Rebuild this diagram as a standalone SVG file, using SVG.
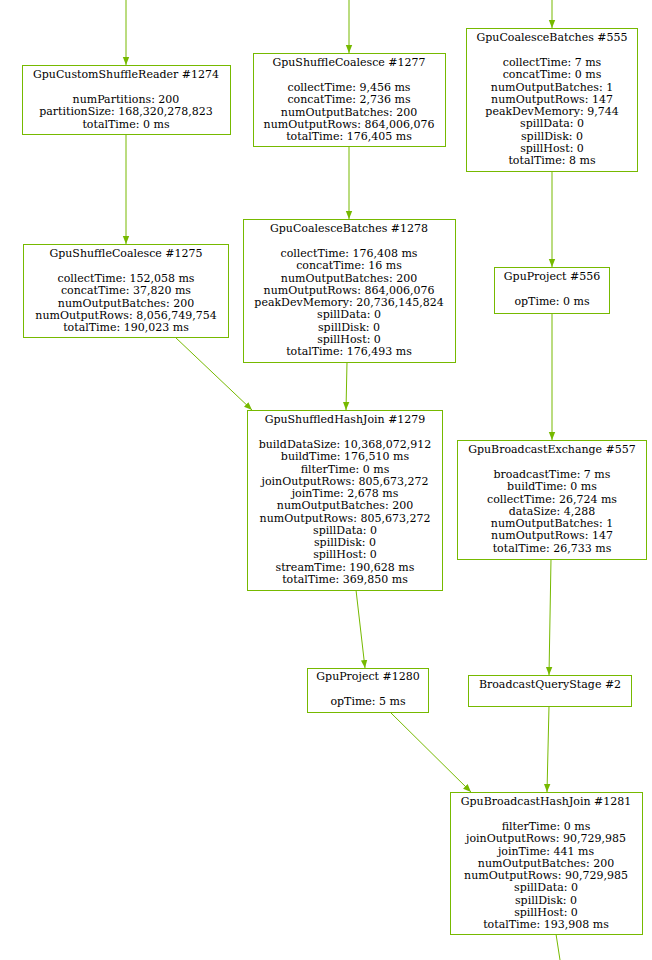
<svg xmlns="http://www.w3.org/2000/svg" width="652" height="960" viewBox="0 0 652 960">
<defs>
<style>
rect{fill:#fff;stroke:#76b900;stroke-width:1}
text{font-family:"DejaVu Serif",serif;font-size:11px;text-anchor:middle;fill:#000}
.e{stroke:#76b900;stroke-width:1;fill:none;marker-end:url(#a)}
</style>
<marker id="a" viewBox="0 0 10 10" refX="10" refY="5" markerWidth="8" markerHeight="8" markerUnits="userSpaceOnUse" orient="auto"><path d="M0,1 L10,5 L0,9 z" fill="#76b900"/></marker>
</defs>
<rect x="0" y="0" width="652" height="960" style="stroke:none"/>
<g id="connectors">
<path class="e" d="M126,0 L126,65"/>
<path class="e" d="M349,0 L349,53"/>
<path class="e" d="M552,0 L552,28"/>
<path class="e" d="M126,134 L126,244"/>
<path class="e" d="M349,146 L349,219"/>
<path class="e" d="M552,171 L552,267"/>
<path class="e" d="M175,337 L252,410"/>
<path class="e" d="M347,362 L346,410"/>
<path class="e" d="M552,313 L552,440"/>
<path class="e" d="M356,590 L365,668"/>
<path class="e" d="M551,559 L549,675"/>
<path class="e" d="M390,712 L471,792"/>
<path class="e" d="M549,706 L547,792"/>
<path style="stroke:#76b900;fill:none" d="M556,934 L560,960"/>
</g>
<g id="n1274"><rect x="22.5" y="65.5" width="208" height="69"/>
<text x="126" y="78">GpuCustomShuffleReader #1274</text>
<text x="126" y="103">numPartitions: 200</text><text x="126" y="115.25">partitionSize: 168,320,278,823</text><text x="126" y="127.5">totalTime: 0 ms</text></g>
<g id="n1277"><rect x="253.5" y="53.5" width="192" height="93"/>
<text x="349" y="66">GpuShuffleCoalesce #1277</text>
<text x="349" y="91">collectTime: 9,456 ms</text><text x="349" y="103.25">concatTime: 2,736 ms</text><text x="349" y="115.5">numOutputBatches: 200</text><text x="349" y="127.75">numOutputRows: 864,006,076</text><text x="349" y="140">totalTime: 176,405 ms</text></g>
<g id="n555"><rect x="466.5" y="28.5" width="171" height="143"/>
<text x="552" y="41">GpuCoalesceBatches #555</text>
<text x="552" y="66">collectTime: 7 ms</text><text x="552" y="78.25">concatTime: 0 ms</text><text x="552" y="90.5">numOutputBatches: 1</text><text x="552" y="102.75">numOutputRows: 147</text><text x="552" y="115">peakDevMemory: 9,744</text><text x="552" y="127.25">spillData: 0</text><text x="552" y="139.5">spillDisk: 0</text><text x="552" y="151.75">spillHost: 0</text><text x="552" y="164">totalTime: 8 ms</text></g>
<g id="n1275"><rect x="23.5" y="244.5" width="205" height="93"/>
<text x="126" y="257">GpuShuffleCoalesce #1275</text>
<text x="126" y="282">collectTime: 152,058 ms</text><text x="126" y="294.25">concatTime: 37,820 ms</text><text x="126" y="306.5">numOutputBatches: 200</text><text x="126" y="318.75">numOutputRows: 8,056,749,754</text><text x="126" y="331">totalTime: 190,023 ms</text></g>
<g id="n1278"><rect x="243.5" y="219.5" width="212" height="143"/>
<text x="349" y="232">GpuCoalesceBatches #1278</text>
<text x="349" y="257">collectTime: 176,408 ms</text><text x="349" y="269.25">concatTime: 16 ms</text><text x="349" y="281.5">numOutputBatches: 200</text><text x="349" y="293.75">numOutputRows: 864,006,076</text><text x="349" y="306">peakDevMemory: 20,736,145,824</text><text x="349" y="318.25">spillData: 0</text><text x="349" y="330.5">spillDisk: 0</text><text x="349" y="342.75">spillHost: 0</text><text x="349" y="355">totalTime: 176,493 ms</text></g>
<g id="n556"><rect x="494.5" y="267.5" width="115" height="46"/>
<text x="552" y="280">GpuProject #556</text>
<text x="552" y="305">opTime: 0 ms</text></g>
<g id="n1279"><rect x="247.5" y="410.5" width="195" height="180"/>
<text x="345" y="423">GpuShuffledHashJoin #1279</text>
<text x="345" y="448">buildDataSize: 10,368,072,912</text><text x="345" y="460.25">buildTime: 176,510 ms</text><text x="345" y="472.5">filterTime: 0 ms</text><text x="345" y="484.75">joinOutputRows: 805,673,272</text><text x="345" y="497">joinTime: 2,678 ms</text><text x="345" y="509.25">numOutputBatches: 200</text><text x="345" y="521.5">numOutputRows: 805,673,272</text><text x="345" y="533.75">spillData: 0</text><text x="345" y="546">spillDisk: 0</text><text x="345" y="558.25">spillHost: 0</text><text x="345" y="570.5">streamTime: 190,628 ms</text><text x="345" y="582.75">totalTime: 369,850 ms</text></g>
<g id="n557"><rect x="457.5" y="440.5" width="189" height="119"/>
<text x="552" y="453">GpuBroadcastExchange #557</text>
<text x="552" y="478">broadcastTime: 7 ms</text><text x="552" y="490.25">buildTime: 0 ms</text><text x="552" y="502.5">collectTime: 26,724 ms</text><text x="552" y="514.75">dataSize: 4,288</text><text x="552" y="527">numOutputBatches: 1</text><text x="552" y="539.25">numOutputRows: 147</text><text x="552" y="551.5">totalTime: 26,733 ms</text></g>
<g id="n1280"><rect x="307.5" y="668.5" width="121" height="44"/>
<text x="368" y="680">GpuProject #1280</text>
<text x="368" y="705">opTime: 5 ms</text></g>
<g id="nbqs2"><rect x="468.5" y="675.5" width="163" height="31"/>
<text x="550" y="688">BroadcastQueryStage #2</text></g>
<g id="n1281"><rect x="450.5" y="792.5" width="192" height="142"/>
<text x="546" y="805">GpuBroadcastHashJoin #1281</text>
<text x="546" y="830">filterTime: 0 ms</text><text x="546" y="842.25">joinOutputRows: 90,729,985</text><text x="546" y="854.5">joinTime: 441 ms</text><text x="546" y="866.75">numOutputBatches: 200</text><text x="546" y="879">numOutputRows: 90,729,985</text><text x="546" y="891.25">spillData: 0</text><text x="546" y="903.5">spillDisk: 0</text><text x="546" y="915.75">spillHost: 0</text><text x="546" y="928">totalTime: 193,908 ms</text></g>
</svg>
